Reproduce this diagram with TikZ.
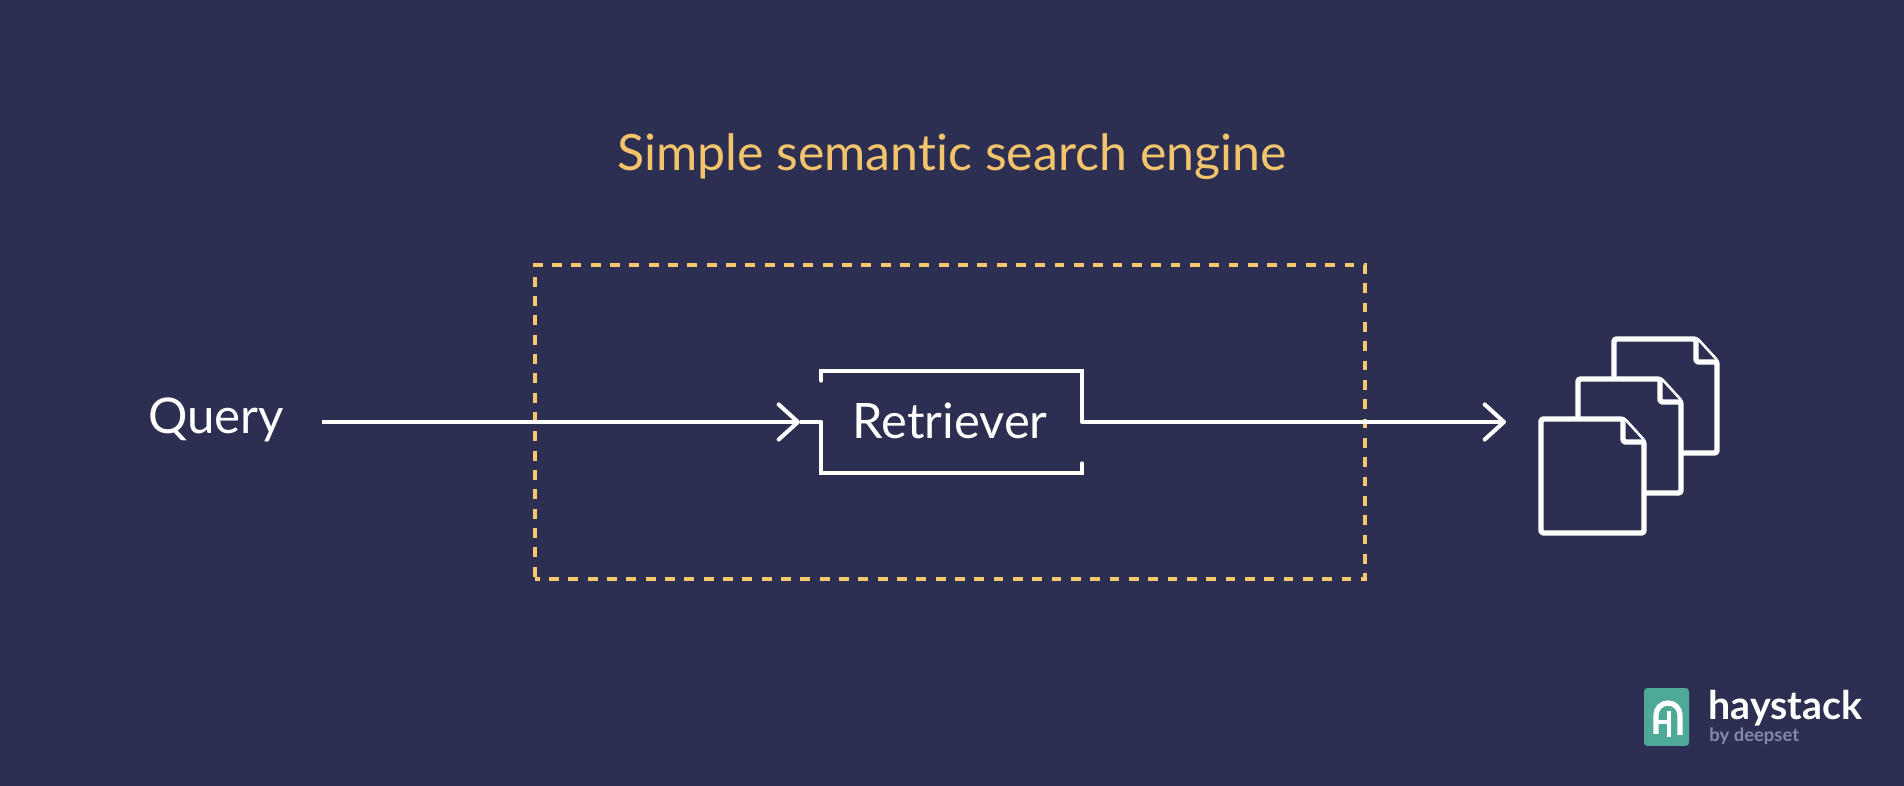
\documentclass[tikz,border=0pt]{standalone}
\usepackage{fontspec}
\setmainfont{Lato}[Ligatures=CommonOff]
\usepackage{xcolor}
\usetikzlibrary{arrows.meta, positioning}
\definecolor{bgnavy}{HTML}{2D2F52}
\definecolor{dashgold}{HTML}{F5C96C}
\definecolor{titlegold}{HTML}{F2C46C}
\definecolor{logogreen}{HTML}{4EA996}
\definecolor{logogrey}{HTML}{8587AB}
\tikzset{
  flowline/.style={draw=white, line width=2.3pt},
  flowarrow/.style={flowline, -{Straight Barb[length=11pt, width=20pt, line width=2.3pt, round]}},
  sheet/.style={draw=white, fill=bgnavy, line width=3.1pt, rounded corners=1.5pt, line join=round},
  label/.style={text=white, inner sep=0pt},
}
\begin{document}
\begin{tikzpicture}[x=0.02cm, y=-0.02cm]
  \fill[bgnavy] (0,0) rectangle (1904,786);
  \useasboundingbox (0,0) rectangle (1904,786);
  \node[inner sep=0pt, text=titlegold, font=\fontsize{28.5}{34}\selectfont] (title) at (952,157) {Simple semantic search engine};
  \node[draw=dashgold, line width=2.2pt, dash pattern=on 5.6pt off 5.4pt, dash phase=3pt, minimum width=16.6cm, minimum height=6.28cm] (engine) at (950,422) {};
  \node[label, font=\fontsize{28}{34}\selectfont] (query) at (216,420) {Query};
  \node[label, minimum width=5.2cm, minimum height=2.04cm] (retriever) at (951.7,422) {};
  \node[label, font=\fontsize{27.8}{33}\selectfont] (retrievertext) at (950,421) {Retriever};
  \coordinate (qstart) at (322,422);
  \coordinate (qtip) at (800,422);
  \coordinate (dtip) at (1506,422);
  % open bracket round the retriever
  \draw[flowline, line cap=round] ([yshift=-0.2cm]retriever.north west) -- (retriever.north west) -- (retriever.north east) -- (retriever.east);
  \draw[flowline, line cap=round] (retriever.west) -- (retriever.south west) -- (retriever.south east) -- ([yshift=0.2cm]retriever.south east);
  \draw[flowarrow] (qstart) -- (qtip);
  \draw[flowline] (qtip) -- (retriever.west);
  \draw[flowarrow] (retriever.east) -- (dtip);
  % documents, back to front
  \foreach \x/\y in {1614/339, 1578/379, 1541/419} {
    \draw[sheet] (\x,\y) -- ++(82,0) -- ++(21,23) -- ++(0,91) -- ++(-103,0) -- cycle;
    \draw[sheet] (\x+82,\y) -- ++(0,23) -- ++(21,0);
  }
  % logo
  \node[fill=logogreen, rounded corners=2pt, minimum width=0.9cm, minimum height=1.16cm, inner sep=0pt] (logo) at (1666.5,717) {};
  \draw[white, line width=3pt] (1656,734) -- (1656,715) arc[start angle=180, end angle=360, radius=12] -- (1680,735);
  \draw[white, line width=1.9pt] (1669,711) -- (1669,737) (1656,722) -- (1669,722);
  \node[inner sep=0pt, anchor=base west, text=white, font=\fontsize{22.4}{24}\bfseries\selectfont] (haystack) at (1708,720) {haystack};
  \node[inner sep=0pt, anchor=base west, text=logogrey, font=\fontsize{10.5}{12}\bfseries\selectfont] (deepset) at (1709,742) {by deepset};
\end{tikzpicture}
\end{document}
